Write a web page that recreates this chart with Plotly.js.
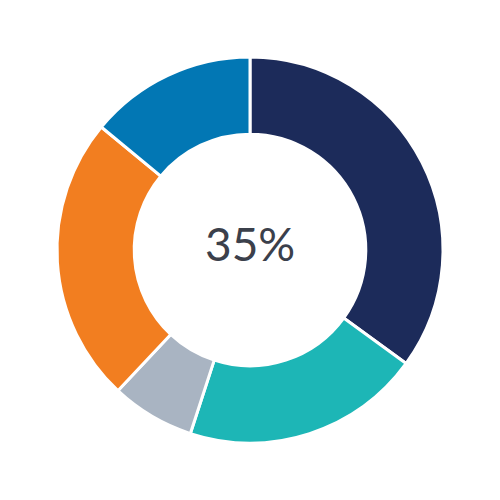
<!DOCTYPE html>
<html>
<head>
<meta charset="utf-8">
<script src="https://cdn.plot.ly/plotly-3.0.1.min.js"></script>
<style>html,body{margin:0;padding:0;background:#fff;}</style>
</head>
<body>
<div id="donut" style="width:500px;height:500px;"></div>
<script>
// slices, clockwise from 12 o'clock
var labels = ['A', 'B', 'C', 'D', 'E'];
var values = [35, 20, 7, 24, 14];
var colors = ['#1c2b5a', '#1db6b6', '#a9b4c2', '#f27e20', '#0277b4'];
var centerText = '35%';

var trace = {
  type: 'pie',
  labels: labels,
  values: values,
  hole: 0.6,
  sort: false,
  direction: 'clockwise',
  rotation: 0,
  textinfo: 'none',
  hoverinfo: 'none',
  marker: {
    colors: colors,
    line: {color: '#ffffff', width: 3}
  }
};

var layout = {
  width: 500,
  height: 500,
  showlegend: false,
  margin: {l: 57, r: 57, t: 57, b: 57},
  paper_bgcolor: '#ffffff',
  annotations: [{
    text: centerText,
    x: 0.5, y: 0.516,
    xref: 'paper', yref: 'paper',
    showarrow: false,
    font: {family: 'Lato', size: 46, color: '#3b404b'}
  }]
};

Plotly.newPlot('donut', [trace], layout, {displayModeBar: false});
</script>
</body>
</html>
